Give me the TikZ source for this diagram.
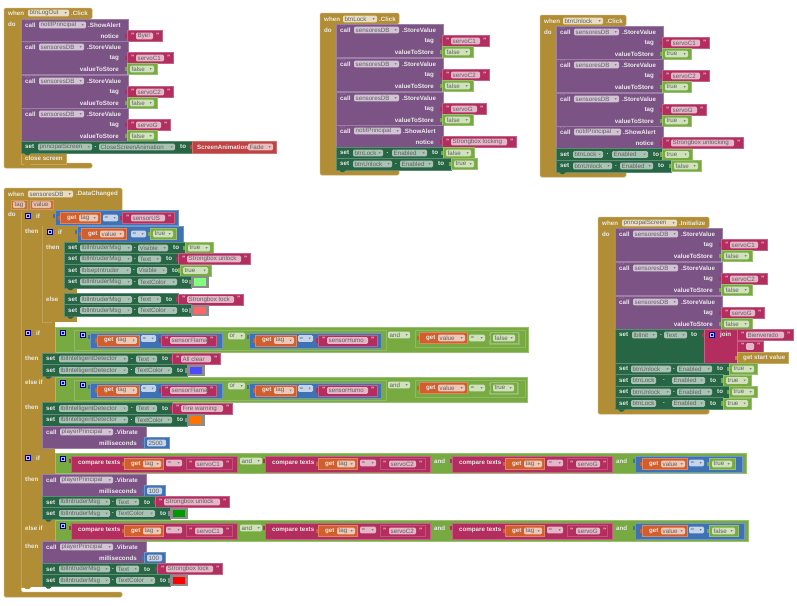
\documentclass[tikz,border=0pt]{standalone}
\usepackage{fontspec}
\setmainfont{Liberation Sans}

\definecolor{goldc}{HTML}{B18E35}
\definecolor{purplec}{HTML}{7C5385}
\definecolor{setc}{HTML}{266644}
\definecolor{logicc}{HTML}{77AB41}
\definecolor{textc}{HTML}{B32D5E}
\definecolor{mathc}{HTML}{3F71B5}
\definecolor{getc}{HTML}{D05F2D}
\definecolor{enumc}{HTML}{BF4343}

\tikzset{
    blk/.style={draw=#1!75!white, fill=#1, line width=0.5pt},
    rail/.style={draw=#1!82!white, line width=0.5pt},
    lbl/.style={font=\fontsize{6.2}{6.2}\selectfont\bfseries, text=white!92!black, inner sep=0pt, anchor=west},
    rlbl/.style={lbl, anchor=east},
    ftxt/.style={font=\fontsize{6.2}{6.2}\selectfont, text=black!62, inner sep=0pt, anchor=west}
}

% block and texts, all in pixels of the reference
\newcommand{\blk}[5]{\draw[blk=#1] (#2,#3) rectangle (#4,#5);}
\newcommand{\lbl}[3]{\node[lbl] at (#1,#2) {#3};}
\newcommand{\rlbl}[3]{\node[rlbl] at (#1,#2) {#3};}
\newcommand{\fld}[5]{
    \fill[#1, rounded corners=1.2pt] (#2,#4-3.3) rectangle (#3,#4+3.3);
    \node[ftxt] at (#2+1.5,#4) {#5};
    \fill[black!50] (#3-4.4,#4-0.8)--(#3-2.4,#4-0.8)--(#3-3.4,#4+0.8)--cycle;
}
% plain field, no arrow
\newcommand{\pfld}[5]{
    \fill[#1, rounded corners=1.2pt] (#2,#4-3.3) rectangle (#3,#4+3.3);
    \node[ftxt] at (#2+1.5,#4) {#5};
}
\newcommand{\plug}[3]{\fill[#1] (#2-2,#3-2.2) rectangle (#2+0.5,#3+2.2);}
\newcommand{\strb}[4]{
    \plug{textc}{#1}{#3}
    \blk{textc}{#1}{#3-5.6}{#2}{#3+5.6}
    \lbl{#1+4}{#3-0.8}{\char34}
    \lbl{#2-6}{#3-0.8}{\char34}
    \pfld{textc!35!white}{#1+9}{#2-9}{#3}{#4}
}
\newcommand{\valb}[4]{
    \plug{logicc}{#1}{#3}
    \blk{logicc}{#1}{#3-5.6}{#2}{#3+5.6}
    \fld{logicc!35!white}{#1+3}{#2-3}{#3}{#4}
}
\newcommand{\getb}[4]{
    \plug{getc}{#1}{#3}
    \blk{getc}{#1}{#3-5.6}{#2}{#3+5.6}
    \lbl{#1+7}{#3}{get}
    \fld{getc!35!white}{#1+19}{#2-2}{#3}{#4}
}
\newcommand{\numb}[4]{
    \plug{mathc}{#1}{#3}
    \blk{mathc}{#1}{#3-5.6}{#2}{#3+5.6}
    \pfld{mathc!30!white}{#1+3}{#2-3}{#3}{#4}
}
\newcommand{\swatch}[3]{
    \plug{black!45}{#1}{#2}
    \fill[black!45] (#1,#2-5.6) rectangle (#1+18,#2+5.6);
    \fill[#3] (#1+3,#2-3.6) rectangle (#1+15,#2+3.6);
}
\newcommand{\ico}[2]{
    \fill[blue!60!black] (#1-3,#2-3) rectangle (#1+3,#2+3);
    \fill[white!75!blue] (#1-1.6,#2-1.6) rectangle (#1+1.6,#2+1.6);
    \fill[blue!60!black] (#1-0.6,#2-0.6) rectangle (#1+0.6,#2+0.6);
}
% small tab under a statement block
\newcommand{\tabb}[3]{\fill[#1] (#2+3,#3)--(#2+5,#3+2.2)--(#2+8,#3+2.2)--(#2+10,#3)--cycle;}
\newcommand{\setrow}[9]{
    \blk{setc}{#1}{#3-5.8}{#2}{#3+5.8}
    \tabb{setc}{#1}{#3+5.8}
    \lbl{#1+4}{#3}{set}
    \fld{setc!40!white}{#4}{#5}{#3}{#6}
    \lbl{#5/2+#7/2-1}{#3}{.}
    \fld{setc!40!white}{#7}{#8}{#3}{#9}
    \lbl{#8+5}{#3}{to}
}
\newcommand{\whenb}[7]{
    \fill[goldc, draw=goldc!75!white, line width=0.5pt, rounded corners=1.5pt] (#1,#4)--(#3,#4)--(#3,#5)--(#2,#5)--(#2,#6)--(#3,#6)--(#3,#7)--(#1,#7)--cycle;
}
\newcommand{\storeval}[7]{
    \begin{scope}[shift={(#1,#2)}]
        \blk{purplec}{0}{0}{107}{33.5}
        \draw[rail=purplec] (3,0)--(5,2)--(8,2)--(10,0);
        \lbl{4}{6}{call}
        \fld{purplec!35!white}{18}{63}{6}{sensoresDB}
        \lbl{66}{6}{.StoreValue}
        \rlbl{98}{17}{tag}
        \rlbl{98}{28}{valueToStore}
        \strb{106}{#3-#1}{17}{#4}
        \valb{106}{#5-#1}{28}{#6}
        #7
    \end{scope}
}
\newcommand{\alertb}[5]{
    \begin{scope}[shift={(#1,#2)}]
        \blk{purplec}{0}{0}{107}{22}
        \draw[rail=purplec] (3,0)--(5,2)--(8,2)--(10,0);
        \lbl{4}{6}{call}
        \fld{purplec!35!white}{18}{65}{6}{notifPrincipal}
        \lbl{67}{6}{.ShowAlert}
        \rlbl{98}{17}{notice}
        \strb{106}{#3-#1}{17}{#4}
        #5
    \end{scope}
}
\newcommand{\vibrate}[3]{
    \begin{scope}[shift={(42,#1)}]
        \blk{purplec}{0}{0}{104}{22}
        \lbl{4}{6}{call}
        \fld{purplec!35!white}{18}{71}{6}{playerPrincipal}
        \lbl{73}{6}{.Vibrate}
        \rlbl{95}{17}{milliseconds}
        \numb{102}{#2-42}{17}{#3}
    \end{scope}
}
% sensor test, the two blue blocks joined with or
\newcommand{\sensorb}[3]{
    \begin{scope}[shift={(0,#1)}]
        \ico{63}{6}
        \draw[rail=logicc] (74,3) rectangle (386,23);
        \ico{83}{8}
        \plug{mathc}{90}{10}
        \blk{mathc}{90}{6}{222}{21}
        \getb{97}{139}{13.5}{tag}
        \fld{mathc!30!white}{141}{156}{11.5}{=}
        \strb{161}{216}{13.5}{sensorFlama}
        \fld{logicc!35!white}{228}{245}{9}{or}
        \plug{mathc}{249}{10}
        \blk{mathc}{249}{6}{381}{21}
        \getb{255}{296}{13.5}{tag}
        \fld{mathc!30!white}{298}{313}{11.5}{=}
        \strb{318}{377}{13.5}{sensorHumo}
        \fld{logicc!35!white}{388}{410}{8}{and}
        \draw[rail=logicc] (415,3) rectangle (525,20);
        \getb{419}{467}{11}{value}
        \fld{logicc!35!white}{469}{485}{11}{=}
        \draw[rail=logicc] (489,6) rectangle (#2+1,17);
        \valb{490}{#2}{11}{#3}
    \end{scope}
}
\newcommand{\cmpb}[4]{
    \plug{textc}{#1}{5}
    \blk{textc}{#1}{0}{#2}{16}
    \lbl{#1+7}{7}{compare texts}
    \getb{#1+53}{#1+92}{8}{tag}
    \fld{textc!35!white}{#1+95}{#1+111}{7}{=}
    \draw[rail=textc] (#1+115,2.5) rectangle (#2-5,13.5);
    \lbl{#1+118}{7}{\char34}
    \lbl{#1+124+#3+3}{7}{\char34}
    \pfld{textc!35!white}{#1+124}{#1+124+#3}{8}{#4}
}
\newcommand{\textb}[4]{
    \begin{scope}[shift={(0,#1)}]
        \ico{63}{3}
        \cmpb{71}{237}{28}{servoC1}
        \fld{logicc!35!white}{240}{262}{5}{and}
        \cmpb{265}{430}{27}{servoC2}
        \lbl{434}{5}{and}
        \cmpb{452}{612}{24}{servoG}
        \lbl{616}{5}{and}
        \plug{mathc}{635}{5}
        \blk{mathc}{635}{0}{#2}{16}
        \getb{642}{687}{8}{value}
        \fld{mathc!30!white}{689}{704}{7}{=}
        \valb{709}{#3}{8}{#4}
    \end{scope}
}

\begin{document}
\begin{tikzpicture}[x=1pt,y=-1pt]
    \useasboundingbox (0,0) rectangle (797,605);
    \fill[white] (0,0) rectangle (797,605);

    % btnLogOut
    \whenb{4}{21}{92}{8}{19}{163}{168}
    \lbl{8}{13}{when}
    \fld{goldc!30!white}{28}{69}{13}{btnLogOut}
    \lbl{71}{13}{.Click}
    \lbl{8}{24}{do}
    \alertb{21}{19}{162}{Bye!}{}
    \storeval{21}{41}{173}{servoC1}{157}{false}{}
    \storeval{21}{75}{173}{servoC2}{157}{false}{}
    \storeval{21}{108}{170}{servoG}{157}{false}{}
    \blk{goldc}{21}{153}{66}{164}
    \tabb{goldc}{21}{164}
    \lbl{25}{158.5}{close screen}
    \setrow{21}{193}{147}{38}{92}{principalScreen}{99}{175}{CloseScreenAnimation}
    \plug{enumc}{192}{147}
    \blk{enumc}{192}{141}{276}{153}
    \lbl{197}{147}{ScreenAnimation}
    \fld{enumc!35!white}{248}{273}{147}{Fade}

    % btnLock
    \whenb{320}{336}{399}{13}{24}{170}{175}
    \lbl{324}{19}{when}
    \fld{goldc!30!white}{343}{377}{19}{btnLock}
    \lbl{379}{19}{.Click}
    \lbl{324}{30}{do}
    \storeval{336}{24}{489}{servoC1}{473}{false}{}
    \storeval{336}{58}{489}{servoC2}{473}{false}{}
    \storeval{336}{92}{486}{servoG}{473}{false}{}
    \alertb{336}{125}{516}{Strongbox locking}{}
    \setrow{336}{443}{153}{353}{383}{btnLock}{392}{427}{Enabled}
    \valb{443}{474}{153}{false}
    \setrow{336}{451}{164}{353}{392}{btnUnlock}{400}{433}{Enabled}
    \valb{451}{477}{164}{true}

    % btnUnlock
    \whenb{540}{556}{626}{15}{26}{172}{177}
    \lbl{544}{21}{when}
    \fld{goldc!30!white}{563}{603}{21}{btnUnlock}
    \lbl{606}{21}{.Click}
    \lbl{544}{32}{do}
    \storeval{556}{26}{709}{servoC1}{691}{true}{}
    \storeval{556}{59}{709}{servoC2}{691}{true}{}
    \storeval{556}{93}{706}{servoG}{691}{true}{}
    \alertb{556}{126}{743}{Strongbox unlocking}{}
    \setrow{556}{662}{154.5}{573}{603}{btnLock}{612}{648}{Enabled}
    \valb{662}{692}{154.5}{true}
    \setrow{556}{671}{166}{573}{612}{btnUnlock}{620}{653}{Enabled}
    \valb{671}{701}{166}{false}

    % principalScreen
    \whenb{598}{615}{709}{217}{228}{409}{414}
    \lbl{602}{223}{when}
    \fld{goldc!30!white}{622}{677}{223}{principalScreen}
    \lbl{679}{223}{.Initialize}
    \lbl{602}{234}{do}
    \storeval{615}{228}{767}{servoC1}{752}{false}{}
    \storeval{615}{262}{767}{servoC2}{752}{false}{}
    \storeval{615}{296}{764}{servoG}{752}{false}{}
    \blk{setc}{615}{329}{704}{363}
    \lbl{619}{335}{set}
    \fld{setc!40!white}{632}{657}{335}{lblInit}
    \lbl{660}{335}{.}
    \fld{setc!40!white}{664}{687}{335}{Text}
    \lbl{691}{335}{to}
    \plug{textc}{704}{335}
    \blk{textc}{704}{329}{737}{363}
    \ico{712}{335}
    \lbl{720}{335}{join}
    \strb{737}{793}{335}{Bienvenido}
    \strb{737}{763}{346.5}{\ }
    \plug{goldc}{737}{358}
    \blk{goldc}{737}{352}{788}{363.5}
    \lbl{743}{358}{get start value}
    \setrow{615}{729}{369}{631}{671}{btnUnlock}{677}{712}{Enabled}
    \valb{729}{757}{369}{true}
    \setrow{615}{723}{380.5}{631}{656}{btnLock}{672}{705}{Enabled}
    \valb{723}{751}{380.5}{true}
    \setrow{615}{729}{392}{631}{671}{btnUnlock}{677}{712}{Enabled}
    \valb{729}{757}{392}{true}
    \setrow{615}{723}{403.5}{631}{656}{btnLock}{672}{705}{Enabled}
    \valb{723}{751}{403.5}{true}

    % sensoresDB
    \whenb{4}{21}{122}{188}{211}{592}{597}
    \fill[goldc] (21,211) rectangle (55,587);
    \draw[rail=goldc] (21,211)--(21,587)--(30,587);
    \tabb{goldc}{21}{587}
    \lbl{8}{194}{when}
    \fld{goldc!30!white}{28}{73}{194}{sensoresDB}
    \lbl{76}{194}{.DataChanged}
    \blk{getc!60!goldc}{11}{200.5}{27}{209}
    \pfld{getc!40!white}{13}{25}{204.7}{tag}
    \blk{getc!60!goldc}{30}{200.5}{53}{209}
    \pfld{getc!40!white}{32}{51}{204.7}{value}
    \lbl{8}{214}{do}

    % first if
    \ico{28}{216}
    \lbl{36}{216}{if}
    \plug{mathc}{55}{216}
    \blk{mathc}{55}{210}{178}{225}
    \getb{60}{100}{218}{tag}
    \fld{mathc!30!white}{103}{118}{218}{=}
    \strb{122}{174}{218}{sensorUS}
    \lbl{25}{231}{then}
    \fill[goldc] (42,226) rectangle (77,322);
    \draw[rail=goldc] (42,226)--(42,322)--(52,322);
    \ico{50}{232}
    \lbl{58}{232}{if}
    \plug{mathc}{77}{232}
    \blk{mathc}{77}{226}{183}{242}
    \getb{81}{126}{234}{value}
    \fld{mathc!30!white}{131}{146}{234}{=}
    \valb{150}{176}{234}{true}
    \lbl{46}{247}{then}
    \setrow{64}{185}{248}{80}{132}{lblIntruderMsg}{138}{168}{Visible}
    \valb{185}{213}{248}{true}
    \setrow{64}{178}{259}{80}{132}{lblIntruderMsg}{138}{161}{Text}
    \strb{178}{250}{259}{Strongbox unlock}
    \setrow{64}{180}{270.5}{80}{131}{lblsepIntruder}{137}{167}{Visible}
    \valb{180}{211}{270.5}{true}
    \setrow{64}{191}{282}{80}{132}{lblIntruderMsg}{138}{177}{TextColor}
    \swatch{191}{282}{green!50!white}
    \lbl{46}{299}{else}
    \setrow{64}{178}{299.5}{80}{132}{lblIntruderMsg}{138}{161}{Text}
    \strb{178}{243}{299.5}{Strongbox lock}
    \setrow{64}{191}{310.5}{80}{132}{lblIntruderMsg}{138}{177}{TextColor}
    \swatch{191}{310.5}{red!60!white}

    % flame and humidity test
    \blk{logicc}{55}{327}{528}{352}
    \ico{28}{333}
    \lbl{36}{333}{if}
    \sensorb{327}{518}{false}
    \lbl{25}{358}{then}
    \setrow{42}{172}{359}{59}{128}{lblIntelligentDetector}{136}{157}{Text}
    \strb{172}{220}{359}{All clear}
    \setrow{42}{187}{370.5}{59}{128}{lblIntelligentDetector}{135}{172}{TextColor}
    \swatch{187}{370.5}{blue!70!white}
    \blk{logicc}{55}{377}{527}{402}
    \lbl{25}{382}{else if}
    \sensorb{377}{517}{true}
    \lbl{25}{407}{then}
    \setrow{42}{172}{408.5}{59}{128}{lblIntelligentDetector}{136}{157}{Text}
    \strb{172}{232}{408.5}{Fire warning}
    \setrow{42}{187}{420}{59}{128}{lblIntelligentDetector}{135}{172}{TextColor}
    \swatch{187}{420}{orange!90!red}
    \vibrate{426}{169}{2500}

    % servo test, open
    \blk{logicc}{55}{453}{746}{473}
    \ico{28}{458}
    \lbl{36}{458}{if}
    \textb{456}{742}{735}{true}
    \lbl{25}{479}{then}
    \vibrate{474}{165}{100}
    \setrow{42}{155}{502}{59}{110}{lblIntruderMsg}{116}{139}{Text}
    \strb{155}{229}{502}{Strongbox unlock}
    \setrow{42}{170}{513.5}{59}{110}{lblIntruderMsg}{116}{155}{TextColor}
    \swatch{170}{513.5}{green!60!black}

    % servo test, locked
    \blk{logicc}{55}{520.5}{748}{541}
    \lbl{25}{528}{else if}
    \textb{523}{744}{738}{false}
    \lbl{25}{546}{then}
    \vibrate{541}{165}{100}
    \setrow{42}{157}{569}{59}{110}{lblIntruderMsg}{116}{139}{Text}
    \strb{157}{222}{569}{Strongbox lock}
    \setrow{42}{170}{580.5}{59}{110}{lblIntruderMsg}{116}{155}{TextColor}
    \swatch{170}{580.5}{red}
\end{tikzpicture}
\end{document}
